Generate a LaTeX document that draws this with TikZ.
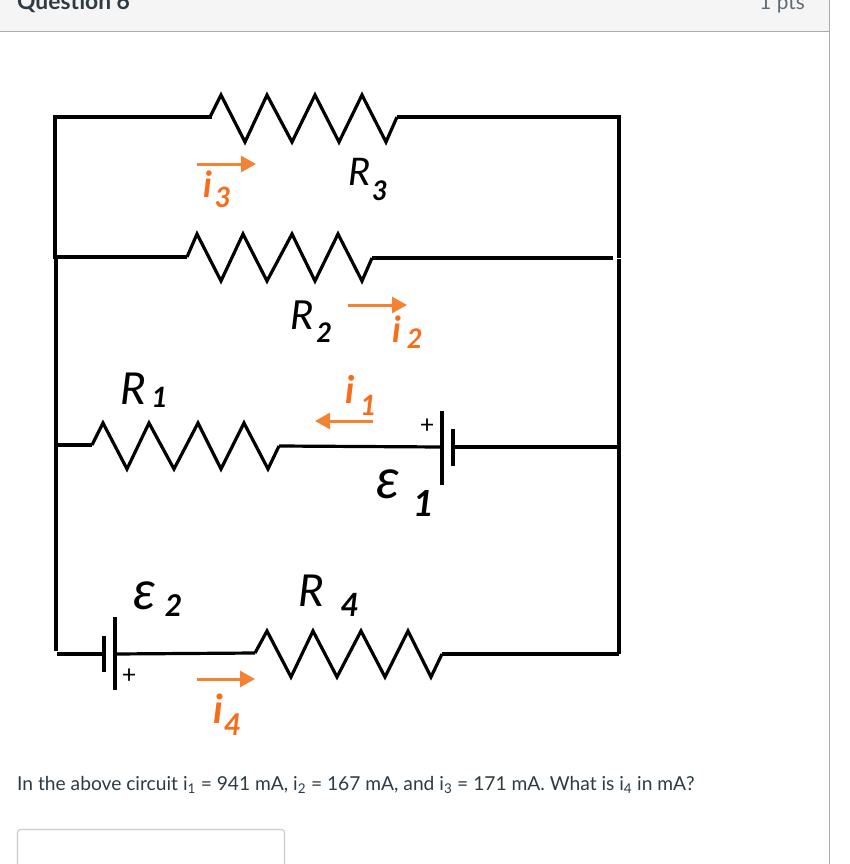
\documentclass[tikz,border=0pt]{standalone}
\usepackage{fontspec}
\setmainfont{Lato}
\definecolor{wirec}{HTML}{000000}
\definecolor{arrowc}{HTML}{F58233}
\definecolor{curlab}{HTML}{F96C1A}
\definecolor{inkc}{HTML}{2D3B45}
\definecolor{ptsc}{HTML}{5F6B74}
\definecolor{headbg}{HTML}{F5F5F5}
\definecolor{rulec}{HTML}{ABABAB}
\definecolor{boxc}{HTML}{C7CDD1}
\newcommand{\hand}[6]{{\fontsize{#1}{#1}\selectfont\itshape #2\kern#3pt\raisebox{-#4pt}{\fontsize{#5}{#5}\selectfont\bfseries #6}}}
\usetikzlibrary{arrows.meta}
\tikzset{
  wire/.style={draw=wirec,line width=3.2pt,line join=miter,line cap=butt},
  resistor/.style={draw=wirec,line width=3.2pt,line join=miter},
  plate/.style={draw=wirec,line width=3.6pt},
  cur/.style={draw=arrowc,line width=3pt,-{Triangle[length=15pt,width=16pt,fill=arrowc]}},
  hw/.style={anchor=base west,inner sep=0pt,outer sep=0pt,text=black},
  hwc/.style={hw,text=curlab,font=\bfseries},
  pm/.style={inner sep=0pt,text=black,font=\fontsize{25}{25}\selectfont},
  q/.style={anchor=base west,inner sep=0pt,text=inkc,font=\fontsize{19.2}{23}\selectfont}
}
\begin{document}
\begin{tikzpicture}[x=1pt,y=-1pt]
\useasboundingbox (0,0) rectangle (849,864);
\clip (0,0) rectangle (849,864);
\fill[white] (0,0) rectangle (849,864);
% page chrome
\fill[headbg] (0,0) rectangle (829,31);
\draw[rulec,line width=1.2pt] (0,31.5) -- (829,31.5);
\draw[rulec,line width=1.2pt] (829.5,0) -- (829.5,864);
\node[anchor=base west,inner sep=0pt,text=inkc,font=\bfseries\fontsize{22.8}{26}\selectfont] (qtitle) at (17,10) {Question 6};
\node[anchor=base east,inner sep=0pt,text=ptsc,font=\fontsize{20.8}{24}\selectfont] (qpts) at (805,10) {1 pts};
% named junctions
\coordinate (tl) at (55,117);
\coordinate (tr) at (619,117);
\coordinate (ml) at (55,257);
\coordinate (mr) at (613,258);
\coordinate (mrr) at (619,258);
\coordinate (e1l) at (56,445);
\coordinate (e1r) at (619,447);
\coordinate (bl) at (56,651);
\coordinate (blw) at (57,654);
\coordinate (br) at (619,654);
\coordinate (r3a) at (210,117);
\coordinate (r3b) at (397,117);
\coordinate (r2a) at (187,257);
\coordinate (r2b) at (372,258);
\coordinate (r1a) at (92,445);
\coordinate (r1b) at (279,446);
\coordinate (r4a) at (255,653);
\coordinate (r4b) at (442,654);
\coordinate (b1l) at (442,447);
\coordinate (b1r) at (453,447);
\coordinate (b2l) at (104,654);
\coordinate (b2r) at (115,654);
% wires
\draw[wire,line cap=rect] (ml) -- (tl) -- (r3a);
\draw[wire] (r3b) -- (tr) -- (mrr);
\draw[wire] (ml) -- (r2a);
\draw[wire] (r2b) -- (mr);
\draw[wire] (56,258) -- (bl);
\draw[wire] (e1l) -- (r1a);
\draw[wire] (r1b) -- (b1l);
\draw[wire] (b1r) -- (e1r);
\draw[wire] (619,259) -- (br);
\draw[wire] (blw) -- (b2l);
\draw[wire] (b2r) -- (r4a);
\draw[wire] (r4b) -- (br);
% resistors
\draw[resistor] (r3a) -- (221,95) -- (245,142) -- (267,95) -- (292,142) -- (315,95) -- (339,142) -- (362,95) -- (386,142) -- (r3b);
\draw[resistor] (r2a) -- (197,234) -- (221,281) -- (243,234) -- (267,281) -- (292,234) -- (315,281) -- (338,234) -- (362,281) -- (r2b);
\draw[resistor] (r1a) -- (103,423) -- (127,469) -- (149,423) -- (174,469) -- (198,423) -- (221,469) -- (244,423) -- (268,469) -- (r1b);
\draw[resistor] (r4a) -- (267,631) -- (291,677) -- (313,631) -- (337,677) -- (361,631) -- (385,677) -- (408,631) -- (431,677) -- (r4b);
% batteries
\draw[plate] (442,411) -- (442,485);
\draw[plate] (453,429) -- (453,466);
\draw[plate] (104,636) -- (104,672);
\draw[plate] (115,617) -- (115,690);
\node[pm] (plus1) at (427,426) {+};
\node[pm] (plus2) at (129,676) {+};
% current arrows
\draw[cur] (197,164) -- (256,164);
\draw[cur] (348,305) -- (407,305);
\draw[cur] (373,421) -- (315,421);
\draw[cur] (197,679) -- (255,679);
% hand labels
\node[hw] (R3) at (348,185) {\hand{38}{R}{2}{15}{27}{3}};
\node[hw] (R2) at (290,329) {\hand{40}{R}{3}{13}{27}{2}};
\node[hw] (R1) at (120,404) {\hand{44}{R}{6}{3}{28}{1}};
\node[hw] (R4) at (298,606) {\hand{44}{R}{17}{10}{32}{4}};
\node[hw] (E1) at (376,498) {\hand{56}{ε}{14}{18}{36}{1}};
\node[hw] (E2) at (133,609) {\hand{54}{ε}{9}{7}{30}{2}};
\node[hwc] (i3) at (203,197) {\hand{36}{i}{3}{10}{28}{3}};
\node[hwc] (i2) at (392,342) {\hand{36}{i}{6}{6}{27}{2}};
\node[hwc] (i1) at (345,403) {\hand{38}{i}{6}{12}{28}{1}};
\node[hwc] (i4) at (213,723) {\hand{40}{i}{1}{12}{30}{4}};
% question text
\node[q] (qtext) at (17,790) {In the above circuit i\textsubscript{1} = 941 mA, i\textsubscript{2} = 167 mA, and i\textsubscript{3} = 171 mA. What is i\textsubscript{4} in mA?};
\draw[boxc,line width=1.2pt,rounded corners=3pt] (17.5,880) -- (17.5,829.5) -- (284.5,829.5) -- (284.5,880);
\end{tikzpicture}
\end{document}
